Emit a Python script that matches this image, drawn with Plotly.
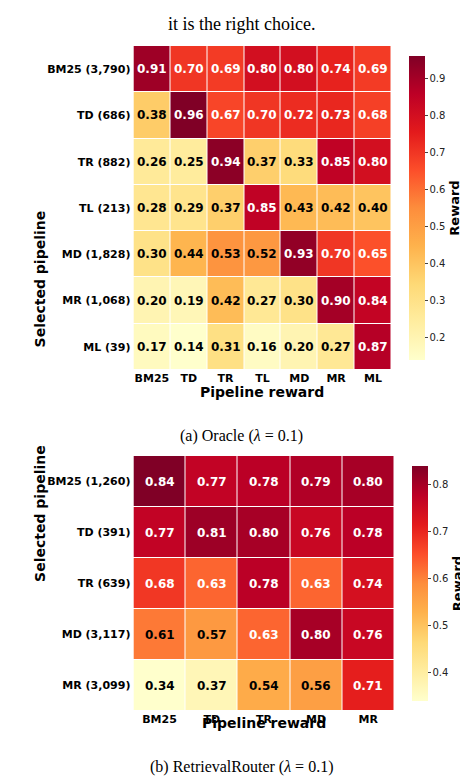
import plotly.graph_objects as go

cols_a = ["BM25", "TD", "TR", "TL", "MD", "MR", "ML"]
rows_a = ["BM25 (3,790)", "TD (686)", "TR (882)", "TL (213)", "MD (1,828)", "MR (1,068)", "ML (39)"]
z_a = [
    [0.91, 0.70, 0.69, 0.80, 0.80, 0.74, 0.69],
    [0.38, 0.96, 0.67, 0.70, 0.72, 0.73, 0.68],
    [0.26, 0.25, 0.94, 0.37, 0.33, 0.85, 0.80],
    [0.28, 0.29, 0.37, 0.85, 0.43, 0.42, 0.40],
    [0.30, 0.44, 0.53, 0.52, 0.93, 0.70, 0.65],
    [0.20, 0.19, 0.42, 0.27, 0.30, 0.90, 0.84],
    [0.17, 0.14, 0.31, 0.16, 0.20, 0.27, 0.87],
]
cols_b = ["BM25", "TD", "TR", "MD", "MR"]
rows_b = ["BM25 (1,260)", "TD (391)", "TR (639)", "MD (3,117)", "MR (3,099)"]
z_b = [
    [0.84, 0.77, 0.78, 0.79, 0.80],
    [0.77, 0.81, 0.80, 0.76, 0.78],
    [0.68, 0.63, 0.78, 0.63, 0.74],
    [0.61, 0.57, 0.63, 0.80, 0.76],
    [0.34, 0.37, 0.54, 0.56, 0.71],
]

W, H = 468, 779
F = "DejaVu Sans"
fig = go.Figure()
ann = []

def panel(z, cols, rows, dx, dy, cbx, ticks, suffix):
    zmin = min(min(r) for r in z); zmax = max(max(r) for r in z)
    fig.add_trace(go.Heatmap(
        z=z, x=cols, y=rows, xaxis="x" + suffix, yaxis="y" + suffix,
        colorscale="YlOrRd", zmin=zmin, zmax=zmax, xgap=1, ygap=1,
        colorbar=dict(x=cbx, xanchor="left", y=(dy[0] + dy[1]) / 2, yanchor="middle",
                      len=(dy[1] - dy[0]), lenmode="fraction", thickness=16,
                      outlinewidth=0, tickvals=ticks, ticks="outside", ticklen=3,
                      tickfont=dict(family=F, size=10, color="#222"),
                      title=dict(text="<b>Reward</b>", side="right",
                                 font=dict(family=F, size=13, color="black"))),
    ))
    for i, r in enumerate(rows):
        for j, c in enumerate(cols):
            v = z[i][j]
            col = "white" if (v - zmin) / (zmax - zmin) > 0.56 else "black"
            ann.append(dict(x=c, y=r, xref="x" + suffix, yref="y" + suffix,
                            text="<b>%.2f</b>" % v, showarrow=False,
                            font=dict(family=F, size=12, color=col)))
    fig.update_layout(**{
        "xaxis" + suffix: dict(domain=dx, anchor="y" + suffix, showgrid=False,
                               tickfont=dict(family=F, size=11, color="black"),
                               tickprefix="<b>", ticksuffix="</b>", ticks=""),
        "yaxis" + suffix: dict(domain=dy, anchor="x" + suffix, autorange="reversed",
                               showgrid=False, tickfont=dict(family=F, size=11, color="black"),
                               tickprefix="<b>", ticksuffix="</b>", ticks="", ticklabelstandoff=2),
    })
    ann.append(dict(x=(dx[0] + dx[1]) / 2, y=dy[0] - 0.028, xref="paper", yref="paper",
                    text="<b>Pipeline reward</b>", showarrow=False,
                    font=dict(family=F, size=14, color="black")))
    ann.append(dict(x=22 / W, y=(dy[0] + dy[1]) / 2, xref="paper", yref="paper",
                    text="<b>Selected pipeline</b>", showarrow=False, textangle=-90,
                    font=dict(family=F, size=14, color="black")))

panel(z_a, cols_a, rows_a, [126 / W, 385 / W], [1 - 362 / H, 1 - 38 / H],
      393 / W, [0.2, 0.3, 0.4, 0.5, 0.6, 0.7, 0.8, 0.9], "")
panel(z_b, cols_b, rows_b, [126 / W, 388 / W], [1 - 703 / H, 1 - 448 / H],
      396 / W, [0.4, 0.5, 0.6, 0.7, 0.8], "2")

serif = "Liberation Serif"
ann.append(dict(x=0.5, y=1 - 428 / H, xref="paper", yref="paper", showarrow=False,
                text="(a) Oracle (<i>λ</i> = 0.1)", font=dict(family=serif, size=16, color="black")))
ann.append(dict(x=0.5, y=1 - 770 / H, xref="paper", yref="paper", showarrow=False,
                text="(b) RetrievalRouter (<i>λ</i> = 0.1)", font=dict(family=serif, size=16, color="black")))
ann.append(dict(x=0.5, y=1 - 4 / H, xref="paper", yref="paper", showarrow=False,
                text="it is the right choice.", font=dict(family=serif, size=18, color="black")))

fig.update_layout(width=W, height=H, margin=dict(l=0, r=0, t=0, b=0),
                  plot_bgcolor="white", paper_bgcolor="white", annotations=ann)
fig.write_html("out.html")
